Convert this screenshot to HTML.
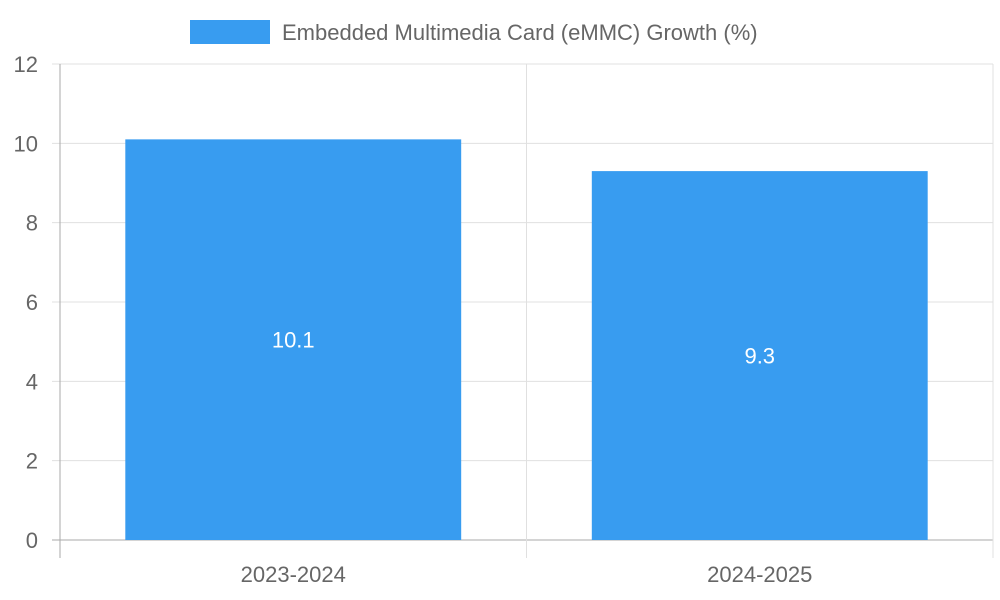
<!DOCTYPE html>
<html><head><meta charset="utf-8"><style>
body{margin:0;background:#fff;}
svg{display:block;font-family:"Liberation Sans",sans-serif;}
</style></head><body>
<svg id="chart" width="1000" height="600">
<g id="legend">
<rect x="190" y="20" width="80" height="24" fill="#389cf0"></rect>
<text x="282" y="40" font-size="22" fill="#666">Embedded Multimedia Card (eMMC) Growth (%)</text>
</g>
<g id="grid"></g><g id="bars"></g><g id="axes"></g>
</svg>
<script>
const categories=["2023-2024","2024-2025"];
const values=[10.1,9.3];
const yTicks=[0,2,4,6,8,10,12];
const NS="http://www.w3.org/2000/svg";
const L=60,R=993,T=64,B=540,yMax=12;
const y=v=>B-(B-T)*v/yMax;
const bw=(R-L)/categories.length;
const x=i=>L+bw*i;
function mk(p,tag,a){const e=document.createElementNS(NS,tag);for(const k in a)e.setAttribute(k,a[k]);p.appendChild(e);return e;}
const grid=document.getElementById('grid'),bars=document.getElementById('bars'),axes=document.getElementById('axes');
yTicks.forEach(t=>{
  const l=mk(grid,'line',{x1:L-8,x2:R,y1:y(t),y2:y(t),stroke:t===0?'#aaa':'#e0e0e0','stroke-width':1});
  
  
  const tx=mk(axes,'text',{x:38,y:y(t)+8,'font-size':22,fill:'#666','text-anchor':'end'});
  tx.textContent=t;
  
  
});
for(let i=0;i<=categories.length;i++){
  const l=mk(grid,'line',{x1:x(i),x2:x(i),y1:T,y2:B+18,stroke:i===0?'#aaa':'#e0e0e0','stroke-width':1});
  
  
}
categories.forEach((c,i)=>{
  const w=bw*0.72,bx=x(i)+(bw-w)/2;
  const r=mk(bars,'rect',{x:bx,y:y(values[i]),width:w,height:B-y(values[i]),fill:'#389cf0'});
  
  
  const v=mk(bars,'text',{x:bx+w/2,y:(y(values[i])+B)/2+8,'font-size':22,fill:'#fff','text-anchor':'middle'});
  v.textContent=values[i];
  
  
  const t=mk(axes,'text',{x:x(i)+bw/2,y:582,'font-size':22,fill:'#666','text-anchor':'middle'});
  t.textContent=c;
  
  
});
</script>
</body></html>
